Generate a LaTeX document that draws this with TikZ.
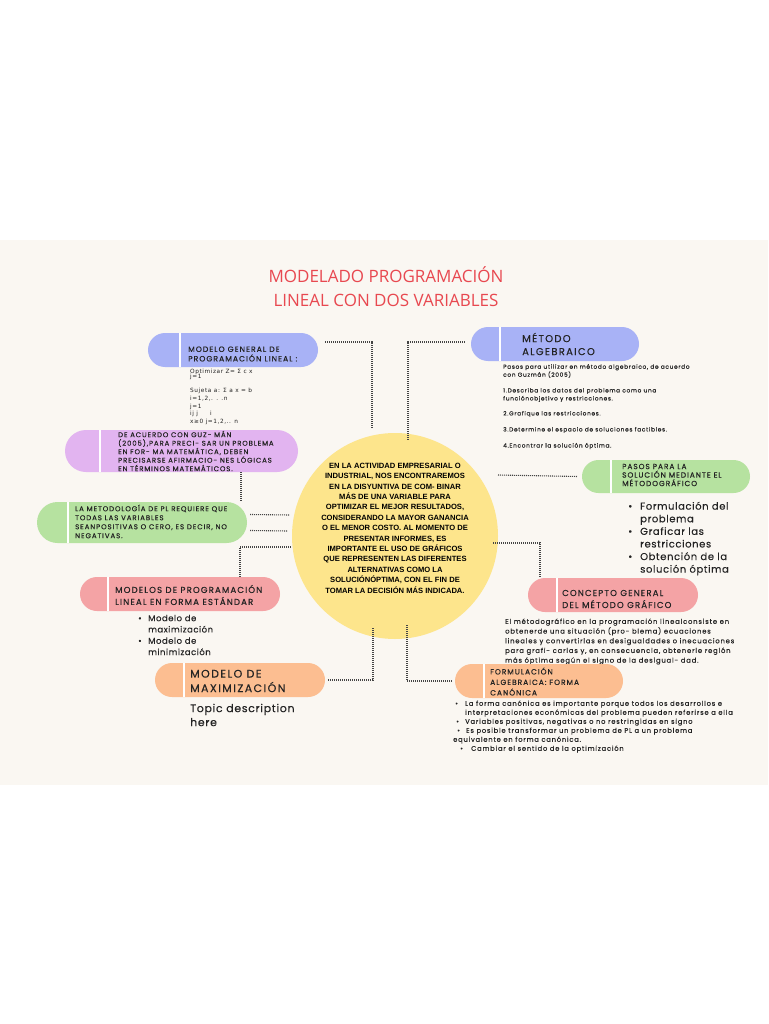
\documentclass[tikz,border=0pt]{standalone}
\usepackage{fontspec}
\usepackage{tikz}
\usetikzlibrary{positioning, shapes.misc, calc}
\setmainfont{Poppins}
\newfontfamily\pillfont[LetterSpace=13,FakeBold=0.35]{Poppins}
\newfontfamily\bodyfont[LetterSpace=6,FakeBold=0.15]{Poppins}
\newfontfamily\widebody[LetterSpace=12,FakeBold=0.15]{Poppins}
\newfontfamily\circfont{Liberation Sans}
\newfontfamily\titlefont{Open Sans}
\newfontfamily\symfont[LetterSpace=10]{DejaVu Sans}
\definecolor{bgband}{RGB}{250,247,242}
\definecolor{periw}{RGB}{168,178,246}
\definecolor{lilac}{RGB}{226,180,240}
\definecolor{mint}{RGB}{182,226,160}
\definecolor{rose}{RGB}{244,163,165}
\definecolor{peach}{RGB}{252,190,145}
\definecolor{sun}{RGB}{253,229,140}
\definecolor{titlered}{RGB}{232,72,80}
\definecolor{ink}{RGB}{35,35,35}
\newcommand{\bulitem}[1]{\makebox[#1][l]{\textbullet}}
\newcommand{\fsz}[2]{\fontsize{#1}{#2}\selectfont}

\begin{document}
\begin{tikzpicture}[x=1pt,y=-1pt,
    pill/.style={rounded rectangle,inner sep=0pt,minimum height=34pt},
    sepline/.style={draw=white,line width=1.2pt},
    pilltxt/.style={anchor=west,align=left,inner sep=0pt,text=ink},
    body/.style={anchor=west,align=left,inner sep=0pt,text=ink},
    link/.style={draw=ink!85,line width=1.1pt,dash pattern=on 1pt off 1pt}
  ]
  \useasboundingbox (0,0) rectangle (768,1024);
  \fill[white] (0,0) rectangle (768,1024);
  \fill[bgband] (0,240) rectangle (768,785);

  % title
  \node[font=\titlefont\fsz{17}{24},text=titlered,align=center] (title) at (386,287)
    {MODELADO PROGRAMACIÓN\\LINEAL CON DOS VARIABLES};

  % centre circle
  \node[circle,fill=sun,minimum size=206pt,inner sep=0pt] (centro) at (395,536) {};
  \node[font=\circfont\bfseries\fsz{7.6}{10.4},align=center,text=black] (centrotxt) at (395,528) {
    EN LA ACTIVIDAD EMPRESARIAL O\\
    INDUSTRIAL, NOS ENCONTRAREMOS\\
    EN LA DISYUNTIVA DE COM- BINAR\\
    MÁS DE UNA VARIABLE PARA\\
    OPTIMIZAR EL MEJOR RESULTADOS,\\
    CONSIDERANDO LA MAYOR GANANCIA\\
    O EL MENOR COSTO. AL MOMENTO DE\\
    PRESENTAR INFORMES, ES\\
    IMPORTANTE EL USO DE GRÁFICOS\\
    QUE REPRESENTEN LAS DIFERENTES\\
    ALTERNATIVAS COMO LA\\
    SOLUCIÓNÓPTIMA, CON EL FIN DE\\
    TOMAR LA DECISIÓN MÁS INDICADA.};

  % left side
  \node[pill,fill=periw,minimum width=170pt] (modgen) at (233,350) {};
  \draw[sepline] ([xshift=-53pt]modgen.north) -- ([xshift=-53pt]modgen.south);
  \node[pilltxt,font=\pillfont\fsz{7.7}{9.5}] (modgentxt) at (188,354)
    {MODELO GENERAL DE\\PROGRAMACIÓN LINEAL :};
  \node[body,font=\symfont\fsz{5.8}{7}] (formA) at (190,372) {Optimizar Z= Σ c x};
  \node[body,font=\symfont\fsz{5.8}{7}] (formB) at (190,377) {j=1};
  \node[body,font=\symfont\fsz{5.8}{7.7}] (formC) at (190,406.5)
    {Sujeta a: Σ a x = b\\i=1,2,. . .n\\j=1\\ij j\hspace{12pt}i\\x≥0 j=1,2,.. n};

  \node[pill,fill=lilac,minimum width=233pt,minimum height=42pt] (guzman) at (181.5,451) {};
  \draw[sepline] ([xshift=-81.5pt]guzman.north) -- ([xshift=-81.5pt]guzman.south);
  \node[pilltxt,font=\pillfont\fsz{6.9}{8.5}] (guzmantxt) at (118,451) {
    DE ACUERDO CON GUZ- MÁN\\
    (2005),PARA PRECI- SAR UN PROBLEMA\\
    EN FOR- MA MATEMÁTICA, DEBEN\\
    PRECISARSE AFIRMACIO- NES LÓGICAS\\
    EN TÉRMINOS MATEMÁTICOS.};

  \node[pill,fill=mint,minimum width=210pt,minimum height=41pt] (metodo) at (142,522.5) {};
  \draw[sepline] ([xshift=-74pt]metodo.north) -- ([xshift=-74pt]metodo.south);
  \node[pilltxt,font=\pillfont\fsz{7}{9}] (metodotxt) at (75,521.5) {
    LA METODOLOGÍA DE PL REQUIERE QUE\\
    TODAS LAS VARIABLES\\
    SEANPOSITIVAS O CERO, ES DECIR, NO\\
    NEGATIVAS.};

  \node[pill,fill=rose,minimum width=200pt] (estandar) at (180,594) {};
  \draw[sepline] ([xshift=-72pt]estandar.north) -- ([xshift=-72pt]estandar.south);
  \node[pilltxt,font=\pillfont\fsz{8.6}{12}] (estandartxt) at (115,595)
    {MODELOS DE PROGRAMACIÓN\\LINEAL EN FORMA ESTÁNDAR};
  \node[body,font=\bodyfont\fsz{8.5}{11.3}] (estandarlist) at (138,635) {
    \bulitem{10pt}Modelo de\\
    \hspace*{10pt}maximización\\
    \bulitem{10pt}Modelo de\\
    \hspace*{10pt}minimización};

  \node[pill,fill=peach,minimum width=170pt] (maxim) at (240,680) {};
  \draw[sepline] ([xshift=-56pt]maxim.north) -- ([xshift=-56pt]maxim.south);
  \node[pilltxt,font=\pillfont\fsz{11}{14.5}] (maximtxt) at (190,681)
    {MODELO DE\\MAXIMIZACIÓN};
  \node[body,font=\bodyfont\fsz{11}{14}] (maximdesc) at (190,715)
    {Topic description\\here};

  % right side
  \node[pill,fill=periw,minimum width=168pt] (algebra) at (555,344) {};
  \draw[sepline] ([xshift=-55pt]algebra.north) -- ([xshift=-55pt]algebra.south);
  \node[pilltxt,font=\pillfont\fsz{10}{13}] (algebratxt) at (522,344)
    {MÉTODO\\ALGEBRAICO};
  \node[body,font=\widebody\fsz{5.8}{8}] (alg0) at (503,371)
    {Pasos para utilizar en método algebraico, de acuerdo\\con Guzmán (2005)};
  \node[body,font=\widebody\fsz{5.8}{8}] (alg1) at (503,395)
    {1.Describa los datos del problema como una\\funciónobjetivo y restricciones.};
  \node[body,font=\widebody\fsz{5.8}{8}] (alg2) at (503,414) {2.Grafique las restricciones.};
  \node[body,font=\widebody\fsz{5.8}{8}] (alg3) at (503,430) {3.Determine el espacio de soluciones factibles.};
  \node[body,font=\widebody\fsz{5.8}{8}] (alg4) at (503,446) {4.Encontrar la solución óptima.};

  \node[pill,fill=mint,minimum width=168pt,minimum height=33pt] (pasos) at (666,476.5) {};
  \draw[sepline] ([xshift=-55pt]pasos.north) -- ([xshift=-55pt]pasos.south);
  \node[pilltxt,font=\pillfont\fsz{7.4}{8.5}] (pasostxt) at (622,475)
    {PASOS PARA LA\\SOLUCIÓN MEDIANTE EL\\MÉTODOGRÁFICO};
  \node[body,font=\bodyfont\fsz{10}{12.6}] (pasoslist) at (628,538.5) {
    \bulitem{12pt}Formulación del\\
    \hspace*{12pt}problema\\
    \bulitem{12pt}Graficar las\\
    \hspace*{12pt}restricciones\\
    \bulitem{12pt}Obtención de la\\
    \hspace*{12pt}solución óptima};

  \node[pill,fill=rose,minimum width=170pt] (concepto) at (613,595) {};
  \draw[sepline] ([xshift=-56pt]concepto.north) -- ([xshift=-56pt]concepto.south);
  \node[pilltxt,font=\pillfont\fsz{8.6}{12}] (conceptotxt) at (562,599)
    {CONCEPTO GENERAL\\DEL MÉTODO GRÁFICO};
  \node[body,font=\widebody\fsz{6.8}{9.7}] (conceptodesc) at (505,641.5) {
    El métodográfico en la programación linealconsiste en\\
    obtenerde una situación (pro- blema) ecuaciones\\
    lineales y convertirlas en desigualdades o inecuaciones\\
    para grafi- carlas y, en consecuencia, obtenerle región\\
    más óptima según el signo de la desigual- dad.};

  \node[pill,fill=peach,minimum width=168pt] (canonica) at (539,681) {};
  \draw[sepline] ([xshift=-55pt]canonica.north) -- ([xshift=-55pt]canonica.south);
  \node[pilltxt,font=\pillfont\fsz{7.5}{10.5}] (canonicatxt) at (490,681.5)
    {FORMULACIÓN\\ALGEBRAICA: FORMA\\CANÓNICA};
  \node[body,font=\widebody\fsz{6.7}{9}] (canonicalist) at (453,726.5) {
    \hspace*{2pt}\bulitem{10pt}La forma canónica es importante porque todos los desarrollos e\\
    \hspace*{12pt}interpretaciones económicas del problema pueden referirse a ella\\
    \hspace*{3pt}\bulitem{9pt}Variables positivas, negativas o no restringidas en signo\\
    \hspace*{4pt}\bulitem{9pt}Es posible transformar un problema de PL a un problema\\
    equivalente en forma canónica.\\
    \hspace*{7pt}\bulitem{11pt}Cambiar el sentido de la optimización};

  % connectors
  \coordinate (cTopL) at (372,428);
  \coordinate (cTopR) at (408,440);
  \coordinate (cL1) at (290,515);
  \coordinate (cL2) at (288,531);
  \coordinate (cL3) at (292,547);
  \coordinate (cBotL) at (373,628);
  \coordinate (cR1) at (498,475);
  \coordinate (cR2) at (493,543);
  \coordinate (cBotR) at (407,625);

  \draw[link] ([xshift=7pt,yshift=8pt]modgen.east) -| (cTopL);
  \draw[link] ([xshift=-6pt,yshift=2pt]algebra.west) -| (cTopR);
  \draw[link] ([xshift=59.5pt]guzman.south) -- ([xshift=99pt]metodo.north);
  \draw[link] ([xshift=3pt,yshift=8pt]metodo.east) -- (cL1);
  \draw[link] ([xshift=3pt,yshift=-8pt]metodo.east) -- (cL2);
  \draw[link] ([xshift=60pt]estandar.north) |- (cL3);
  \draw[link] ([xshift=3pt]maxim.east) -| (cBotL);
  \draw[link] (cR1) -- ([xshift=-4pt]pasos.west);
  \draw[link] (cR2) -| ([xshift=-73pt]concepto.north);
  \draw[link] (cBotR) |- ([xshift=-3pt]canonica.west);
\end{tikzpicture}
\end{document}
